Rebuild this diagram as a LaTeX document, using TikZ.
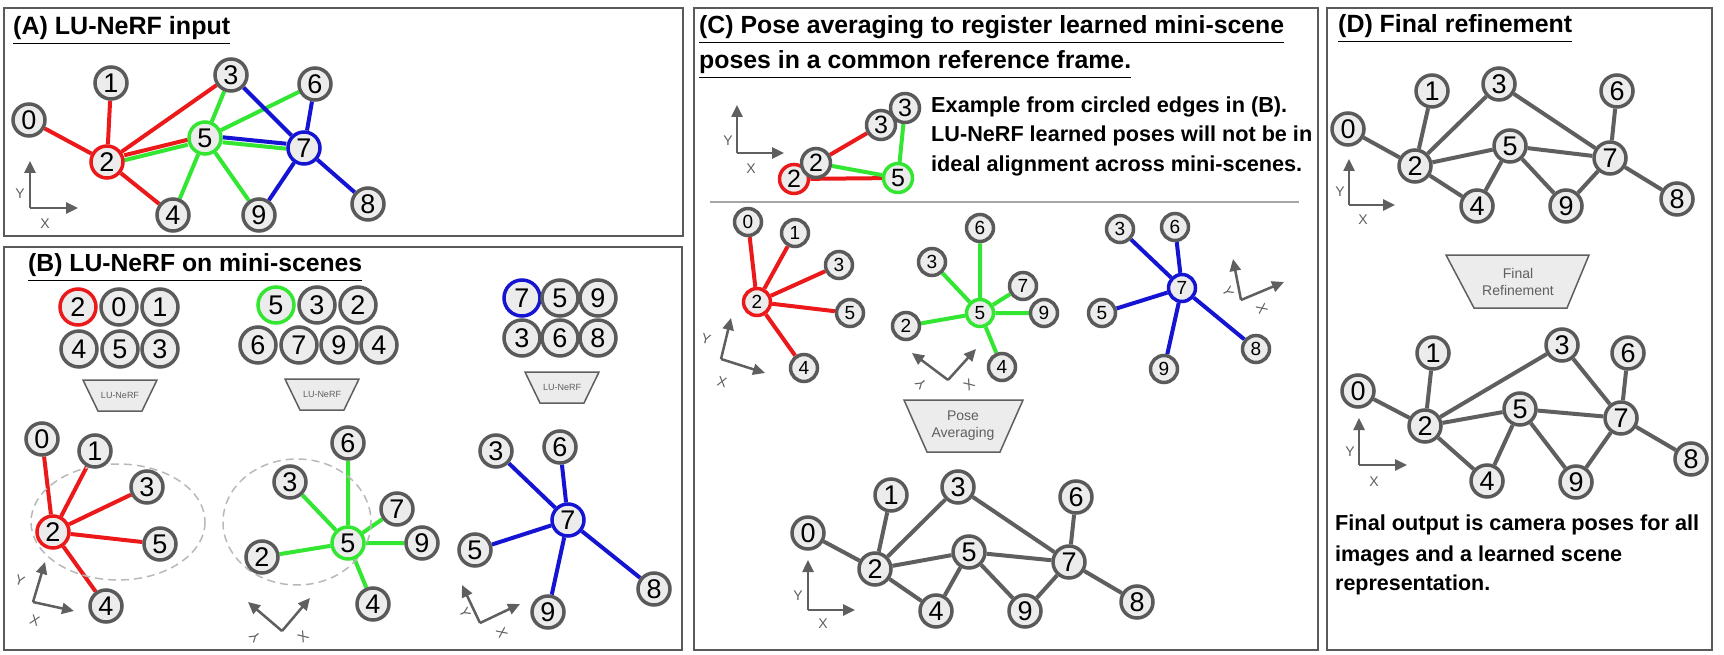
\documentclass[tikz,border=0pt]{standalone}
\usepackage{fontspec}
\setmainfont{Liberation Sans}
\usetikzlibrary{arrows.meta}
\pgfdeclarelayer{background}
\pgfdeclarelayer{paper}
\pgfsetlayers{paper,background,main}
\definecolor{cr}{RGB}{235,25,25}
\definecolor{cg}{RGB}{50,230,50}
\definecolor{cb}{RGB}{20,20,210}
\definecolor{eg}{RGB}{95,95,95}
\definecolor{ng}{RGB}{90,90,90}
\definecolor{nf}{RGB}{236,236,236}
\definecolor{pn}{RGB}{90,90,90}
\newcommand{\fitw}[2]{\resizebox{#1pt}{!}{\bfseries #2}}
\newcommand{\ttl}[2]{\resizebox{#1pt}{!}{\bfseries\underline{#2}}}
\begin{document}
\begin{tikzpicture}[x=1pt,y=-1pt,
  n/.style={circle,draw=ng,fill=nf,line width=3.5pt,minimum size=32pt,inner sep=0pt,font=\fontsize{27}{27}\selectfont},
  gn/.style={n,minimum size=36pt},
  sn/.style={n,minimum size=27pt,font=\fontsize{19}{19}\selectfont},
  tn/.style={n,minimum size=29pt,font=\fontsize{25}{25}\selectfont},
  rn/.style={draw=cr}, gr/.style={draw=cg}, bn/.style={draw=cb},
  e/.style={line width=4pt},
  er/.style={e,draw=cr}, eG/.style={e,draw=cg}, eb/.style={e,draw=cb}, eg/.style={e,draw=eg},
  ax/.style={draw=eg,line width=2.5pt,-{Triangle[width=11pt,length=12pt]}},
  axl/.style={font=\fontsize{14}{14}\selectfont,text=eg,inner sep=0pt},
  panel/.style={draw=pn,line width=1.5pt},
  trap/.style={draw=eg,fill=nf,line width=1.5pt},
  ell/.style={draw=gray!55,dashed,line width=1.5pt,dash pattern=on 8pt off 5pt}]
\useasboundingbox (0,0) rectangle (1724,655);
\begin{pgfonlayer}{paper}
\fill[white] (0,0) rectangle (1724,655);
\end{pgfonlayer}
% panels
\draw[panel] (4,8) rectangle (683,236);
\draw[panel] (4,247) rectangle (682,650);
\draw[panel] (694,8) rectangle (1318,650);
\draw[panel] (1327,8) rectangle (1712,650);
% titles
\node[anchor=west,inner sep=0] (tA) at (13,31) {\ttl{217}{(A) LU-NeRF input}};
\node[anchor=west,inner sep=0] (tB) at (28,268) {\ttl{334}{(B) LU-NeRF on mini-scenes}};
\node[anchor=west,inner sep=0] (tC1) at (699,30) {\ttl{585}{(C) Pose averaging to register learned mini-scene}};
\node[anchor=west,inner sep=0] (tC2) at (699,65) {\ttl{432}{poses in a common reference frame.}};
\node[anchor=west,inner sep=0] (tD) at (1338,29) {\ttl{234}{(D) Final refinement}};

% ===== Panel A =====
\node[n] (a0) at (29,120) {0};
\node[n] (a1) at (111,83) {1};
\node[n,rn] (a2) at (107,162) {2};
\node[n] (a3) at (231,75) {3};
\node[n] (a4) at (173,215) {4};
\node[n,gr] (a5) at (205,138) {5};
\node[n] (a6) at (315,84) {6};
\node[n,bn] (a7) at (304,148) {7};
\node[n] (a8) at (368,204) {8};
\node[n] (a9) at (259,215) {9};
\begin{pgfonlayer}{background}
\draw[er] (a2)--(a0) (a2)--(a1) (a2)--(a3) (a2)--(a4);
\draw[er,transform canvas={yshift=2.5pt}] (a2)--(a5);
\draw[eG,transform canvas={yshift=-2.5pt}] (a2)--(a5);
\draw[eG] (a5)--(a3) (a5)--(a6) (a5)--(a4) (a5)--(a9);
\draw[eG,transform canvas={yshift=-2.5pt}] (a5)--(a7);
\draw[eb,transform canvas={yshift=2.5pt}] (a5)--(a7);
\draw[eb] (a7)--(a3) (a7)--(a6) (a7)--(a8) (a7)--(a9);
\end{pgfonlayer}
\coordinate (aO) at (30,208);
\draw[ax] (aO)--(30,161); \draw[ax] (aO)--(78,208);
\node[axl] at (20,194) {Y}; \node[axl] at (45,224) {X};

% ===== Panel B grids =====
\node[gn,rn] (g12) at (78,307) {2}; \node[gn] (g10) at (119,307) {0}; \node[gn] (g11) at (160,307) {1};
\node[gn] (g14) at (79,349) {4}; \node[gn] (g15) at (120,349) {5}; \node[gn] (g13) at (160,349) {3};
\node[gn,gr] (g25) at (276,305) {5}; \node[gn] (g23) at (317,305) {3}; \node[gn] (g22) at (358,305) {2};
\node[gn] (g26) at (258,345) {6}; \node[gn] (g27) at (299,345) {7}; \node[gn] (g29) at (339,345) {9}; \node[gn] (g24) at (379,345) {4};
\node[gn,bn] (g37) at (522,298) {7}; \node[gn] (g35) at (560,298) {5}; \node[gn] (g39) at (598,298) {9};
\node[gn] (g33) at (522,338) {3}; \node[gn] (g36) at (560,338) {6}; \node[gn] (g38) at (598,338) {8};
% LU-NeRF trapezoids
\draw[trap] (83,380)--(157,380)--(142,411)--(98,411)--cycle;
\node[font=\fontsize{9}{9}\selectfont,text=eg] (l1) at (120,395) {LU-NeRF};
\draw[trap] (285,379)--(359,379)--(344,410)--(300,410)--cycle;
\node[font=\fontsize{9}{9}\selectfont,text=eg] (l2) at (322,394) {LU-NeRF};
\draw[trap] (525,372)--(599,372)--(584,403)--(540,403)--cycle;
\node[font=\fontsize{9}{9}\selectfont,text=eg] (l3) at (562,387) {LU-NeRF};

% B graph 1
\draw[ell] (118,522) ellipse [x radius=87,y radius=58];
\node[n,rn] (p2) at (53,532) {2};
\node[n] (p0) at (42,439) {0};
\node[n] (p1) at (95,451) {1};
\node[n] (p3) at (147,487) {3};
\node[n] (p5) at (160,544) {5};
\node[n] (p4) at (106,606) {4};
\begin{pgfonlayer}{background}
\draw[er] (p2)--(p0) (p2)--(p1) (p2)--(p3) (p2)--(p5) (p2)--(p4);
\end{pgfonlayer}
\coordinate (pO) at (33,602);
\draw[ax] (pO)--(45,562); \draw[ax] (pO)--(74,611);
\node[axl,rotate=-20] at (20,581) {Y}; \node[axl,rotate=-20] at (35,621) {X};

% B graph 2
\draw[ell] (297,522) ellipse [x radius=74,y radius=63];
\node[n,gr] (q5) at (348,543) {5};
\node[n] (q6) at (348,443) {6};
\node[n] (q3) at (290,482) {3};
\node[n] (q7) at (397,509) {7};
\node[n] (q9) at (422,543) {9};
\node[n] (q2) at (262,557) {2};
\node[n] (q4) at (373,604) {4};
\begin{pgfonlayer}{background}
\draw[eG] (q5)--(q6) (q5)--(q3) (q5)--(q7) (q5)--(q9) (q5)--(q2) (q5)--(q4);
\end{pgfonlayer}
\coordinate (qO) at (282,631);
\draw[ax] (qO)--(248,602); \draw[ax] (qO)--(310,598);
\node[axl,rotate=130] at (255,637) {Y}; \node[axl,rotate=40] at (303,637) {X};

% B graph 3
\node[n,bn] (r7) at (568,520) {7};
\node[n] (r3) at (496,451) {3};
\node[n] (r6) at (560,447) {6};
\node[n] (r5) at (475,550) {5};
\node[n] (r9) at (548,612) {9};
\node[n] (r8) at (654,589) {8};
\begin{pgfonlayer}{background}
\draw[eb] (r7)--(r3) (r7)--(r6) (r7)--(r5) (r7)--(r9) (r7)--(r8);
\end{pgfonlayer}
\coordinate (rO) at (480,623);
\draw[ax] (rO)--(462,585); \draw[ax] (rO)--(520,604);
\node[axl,rotate=-65] at (465,613) {Y}; \node[axl,rotate=-65] at (502,633) {X};

% ===== Panel C =====
\coordinate (cO) at (737,153);
\draw[ax] (cO)--(737,105); \draw[ax] (cO)--(784,153);
\node[axl] at (728,141) {Y}; \node[axl] at (751,169) {X};
\node[tn,rn] (x2r) at (794,179) {2};
\node[tn] (x2) at (816,163) {2};
\node[tn] (x3) at (881,125) {3};
\node[tn] (x3b) at (905,108) {3};
\node[tn,gr] (x5) at (898,178) {5};
\begin{pgfonlayer}{background}
\draw[er] (x2r)--(x5) (x2)--(x3);
\draw[eG] (x2)--(x5) (x5)--(x3b);
\end{pgfonlayer}
\node[anchor=west,inner sep=0] (ct1) at (931,107) {\fitw{356}{Example from circled edges in (B).}};
\node[anchor=west,inner sep=0] (ct2) at (931,136) {\fitw{381}{LU-NeRF learned poses will not be in}};
\node[anchor=west,inner sep=0] (ct3) at (931,166) {\fitw{371}{ideal alignment across mini-scenes.}};
\draw[draw=gray!70,line width=1.2pt] (710,202)--(1299,202);

% C mini 1
\node[sn,rn] (s2) at (757,302) {2};
\node[sn] (s0) at (748,222) {0};
\node[sn] (s1) at (795,233) {1};
\node[sn] (s3) at (839,265) {3};
\node[sn] (s5) at (850,313) {5};
\node[sn] (s4) at (804,368) {4};
\begin{pgfonlayer}{background}
\draw[er] (s2)--(s0) (s2)--(s1) (s2)--(s3) (s2)--(s5) (s2)--(s4);
\end{pgfonlayer}
\coordinate (sO) at (721,359);
\draw[ax] (sO)--(731,318); \draw[ax] (sO)--(765,373);
\node[axl,rotate=-15] at (706,339) {Y}; \node[axl,rotate=-15] at (722,382) {X};

% C mini 2
\node[sn,gr] (t5) at (980,313) {5};
\node[sn] (t6) at (980,228) {6};
\node[sn] (t3) at (932,262) {3};
\node[sn] (t7) at (1023,286) {7};
\node[sn] (t9) at (1044,313) {9};
\node[sn] (t2) at (906,326) {2};
\node[sn] (t4) at (1002,367) {4};
\begin{pgfonlayer}{background}
\draw[eG] (t5)--(t6) (t5)--(t3) (t5)--(t7) (t5)--(t9) (t5)--(t2) (t5)--(t4);
\end{pgfonlayer}
\coordinate (tO) at (948,380);
\draw[ax] (tO)--(912,353); \draw[ax] (tO)--(976,349);
\node[axl,rotate=130] at (921,384) {Y}; \node[axl,rotate=40] at (969,385) {X};

% C mini 3
\node[sn,bn] (u7) at (1182,288) {7};
\node[sn] (u3) at (1120,229) {3};
\node[sn] (u6) at (1175,227) {6};
\node[sn] (u5) at (1102,313) {5};
\node[sn] (u9) at (1164,369) {9};
\node[sn] (u8) at (1256,349) {8};
\begin{pgfonlayer}{background}
\draw[eb] (u7)--(u3) (u7)--(u6) (u7)--(u5) (u7)--(u9) (u7)--(u8);
\end{pgfonlayer}
\coordinate (uO) at (1241,300);
\draw[ax] (uO)--(1233,259); \draw[ax] (uO)--(1284,282);
\node[axl,rotate=-65] at (1228,292) {Y}; \node[axl,rotate=-65] at (1262,309) {X};

% Pose averaging
\draw[trap] (904,400)--(1023,400)--(1000,452)--(927,452)--cycle;
\node[font=\fontsize{14}{17}\selectfont,text=eg,align=center] (pa) at (963,426) {Pose\\Averaging};

% C bottom graph
\node[n] (v0) at (808,533) {0};
\node[n] (v1) at (891,495) {1};
\node[n] (v2) at (875,569) {2};
\node[n] (v3) at (958,487) {3};
\node[n] (v4) at (936,611) {4};
\node[n] (v5) at (969,552) {5};
\node[n] (v6) at (1076,497) {6};
\node[n] (v7) at (1069,562) {7};
\node[n] (v8) at (1137,602) {8};
\node[n] (v9) at (1025,611) {9};
\begin{pgfonlayer}{background}
\draw[eg] (v0)--(v2) (v1)--(v2) (v2)--(v3) (v2)--(v5) (v2)--(v4) (v4)--(v5) (v5)--(v9) (v5)--(v7) (v3)--(v7) (v6)--(v7) (v7)--(v8) (v9)--(v7);
\end{pgfonlayer}
\coordinate (vO) at (808,610);
\draw[ax] (vO)--(808,560); \draw[ax] (vO)--(855,610);
\node[axl] at (798,596) {Y}; \node[axl] at (823,624) {X};

% ===== Panel D =====
\node[n] (w0) at (1348,129) {0};
\node[n] (w1) at (1432,91) {1};
\node[n] (w2) at (1415,166) {2};
\node[n] (w3) at (1499,84) {3};
\node[n] (w4) at (1477,206) {4};
\node[n] (w5) at (1510,146) {5};
\node[n] (w6) at (1617,91) {6};
\node[n] (w7) at (1610,158) {7};
\node[n] (w8) at (1677,199) {8};
\node[n] (w9) at (1566,206) {9};
\begin{pgfonlayer}{background}
\draw[eg] (w0)--(w2) (w1)--(w2) (w2)--(w3) (w2)--(w5) (w2)--(w4) (w4)--(w5) (w5)--(w9) (w5)--(w7) (w3)--(w7) (w6)--(w7) (w7)--(w8) (w9)--(w7);
\end{pgfonlayer}
\coordinate (wO) at (1349,205);
\draw[ax] (wO)--(1349,159); \draw[ax] (wO)--(1395,205);
\node[axl] at (1340,192) {Y}; \node[axl] at (1363,220) {X};

\draw[trap] (1446,255)--(1589,255)--(1567,308)--(1474,308)--cycle;
\node[font=\fontsize{14}{17}\selectfont,text=eg,align=center] (fr) at (1518,282) {Final\\Refinement};

\node[n] (z0) at (1358,391) {0};
\node[n] (z1) at (1433,353) {1};
\node[n] (z2) at (1425,426) {2};
\node[n] (z3) at (1562,345) {3};
\node[n] (z4) at (1487,481) {4};
\node[n] (z5) at (1520,409) {5};
\node[n] (z6) at (1628,353) {6};
\node[n] (z7) at (1621,418) {7};
\node[n] (z8) at (1691,459) {8};
\node[n] (z9) at (1576,482) {9};
\begin{pgfonlayer}{background}
\draw[eg] (z0)--(z2) (z1)--(z2) (z2)--(z3) (z2)--(z5) (z2)--(z4) (z4)--(z5) (z5)--(z9) (z5)--(z7) (z3)--(z7) (z6)--(z7) (z7)--(z8) (z9)--(z7);
\end{pgfonlayer}
\coordinate (zO) at (1359,465);
\draw[ax] (zO)--(1359,418); \draw[ax] (zO)--(1407,465);
\node[axl] at (1350,452) {Y}; \node[axl] at (1374,482) {X};

\node[anchor=west,inner sep=0] (dt1) at (1335,525) {\fitw{364}{Final output is camera poses for all}};
\node[anchor=west,inner sep=0] (dt2) at (1335,556) {\fitw{287}{images and a learned scene}};
\node[anchor=west,inner sep=0] (dt3) at (1335,585) {\fitw{155}{representation.}};
\end{tikzpicture}
\end{document}
